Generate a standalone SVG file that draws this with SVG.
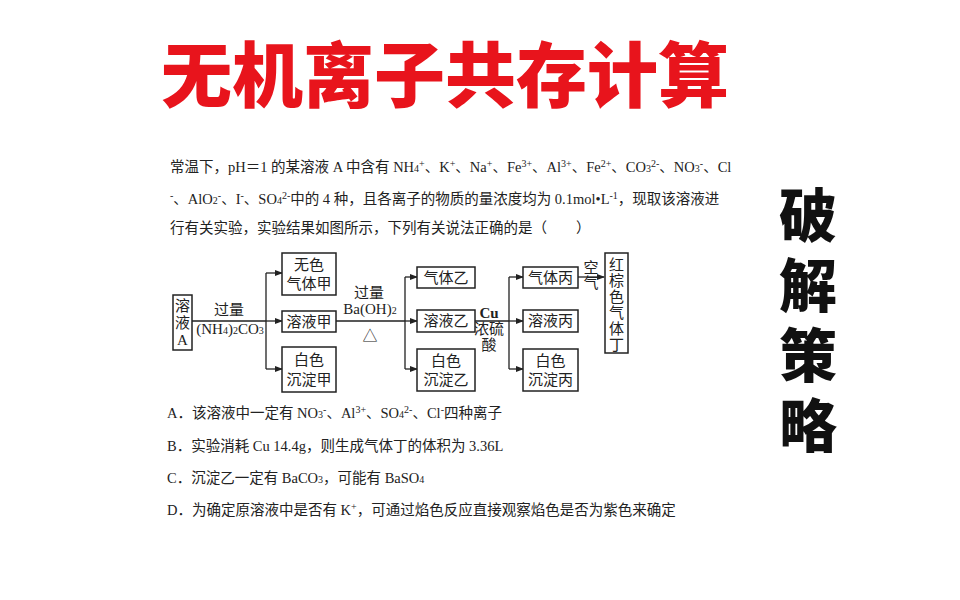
<svg xmlns="http://www.w3.org/2000/svg" width="960" height="600" viewBox="0 0 960 600">
<style>
.t{font-family:"Liberation Serif","Noto Sans CJK SC",serif;font-size:14.5px;fill:#222}
.d{font-family:"Liberation Serif","Noto Sans CJK SC",serif;font-size:15px;fill:#222}
.s{font-size:10px}
.b{fill:#fff;stroke:#222;stroke-width:1.5}
.l{fill:none;stroke:#222;stroke-width:1.3}
.a{fill:none;stroke:#222;stroke-width:1.3;marker-end:url(#ar)}
</style>
<defs><marker id="ar" markerWidth="8" markerHeight="6" refX="7" refY="3" orient="auto" markerUnits="userSpaceOnUse"><path d="M0,0L8,3L0,6z" fill="#222"/></marker></defs>
<rect width="960" height="600" fill="#fff"/>
<text x="445" y="101" text-anchor="middle" font-family="'Noto Sans CJK SC',sans-serif" font-weight="900" font-size="71" fill="#e8141c">无机离子共存计算</text>
<g font-family="'Noto Sans CJK SC',sans-serif" font-weight="900" font-size="58" fill="#111" text-anchor="middle">
<text x="808" y="237">破</text><text x="808" y="307">解</text><text x="808" y="377">策</text><text x="808" y="447">略</text></g>
<text class="t" x="170" y="172">常温下，pH＝1 的某溶液 A 中含有 NH<tspan class="s">4</tspan><tspan class="s" baseline-shift="super">+</tspan>、K<tspan class="s" baseline-shift="super">+</tspan>、Na<tspan class="s" baseline-shift="super">+</tspan>、Fe<tspan class="s" baseline-shift="super">3+</tspan>、Al<tspan class="s" baseline-shift="super">3+</tspan>、Fe<tspan class="s" baseline-shift="super">2+</tspan>、CO<tspan class="s">3</tspan><tspan class="s" baseline-shift="super">2-</tspan>、NO<tspan class="s">3</tspan><tspan class="s" baseline-shift="super">-</tspan>、Cl</text>
<text class="t" x="170" y="204"><tspan class="s" baseline-shift="super">-</tspan>、AlO<tspan class="s">2</tspan><tspan class="s" baseline-shift="super">-</tspan>、I<tspan class="s" baseline-shift="super">-</tspan>、SO<tspan class="s">4</tspan><tspan class="s" baseline-shift="super">2-</tspan>中的 4 种，且各离子的物质的量浓度均为 0.1mol•L<tspan class="s" baseline-shift="super">-1</tspan>，现取该溶液进</text>
<text class="t" x="170" y="233">行有关实验，实验结果如图所示，下列有关说法正确的是（　　）</text>
<g id="connectors">
<path class="l" d="M192,321H266M266,273V369"/>
<path class="a" d="M266,273H282"/><path class="a" d="M266,321H282"/><path class="a" d="M266,369H282"/>
<path class="l" d="M336,321H405M405,277V369"/>
<path class="a" d="M405,277H417"/><path class="a" d="M405,321H417"/><path class="a" d="M405,369H417"/>
<path class="l" d="M475,321H509M509,277V369"/>
<path class="a" d="M509,277H523"/><path class="a" d="M509,321H523"/><path class="a" d="M509,369H523"/>
<path class="a" d="M578,277H604"/>
<text class="d" x="229" y="315" text-anchor="middle" font-size="14">过量</text>
<text class="d" x="230" y="334" text-anchor="middle" font-size="13">(NH<tspan class="s">4</tspan>)<tspan class="s">2</tspan>CO<tspan class="s">3</tspan></text>
<text class="d" x="369" y="298" text-anchor="middle" font-size="14">过量</text>
<text class="d" x="370" y="314" text-anchor="middle" font-size="14">Ba(OH)<tspan class="s">2</tspan></text>
<text class="d" x="370" y="341" text-anchor="middle" font-size="15">△</text>
<text class="d" x="489" y="318" text-anchor="middle" font-size="13" font-weight="bold">Cu</text>
<text class="d" x="489" y="334" text-anchor="middle" font-size="14">浓硫</text>
<text class="d" x="489" y="350" text-anchor="middle" font-size="14">酸</text>
<text class="d" x="591" y="273" text-anchor="middle" font-size="13">空</text>
<text class="d" x="591" y="288" text-anchor="middle" font-size="13">气</text>
</g>
<g id="A"><rect class="b" x="173" y="295" width="19" height="55"/><text class="d" x="182.5" y="311" text-anchor="middle">溶</text><text class="d" x="182.5" y="328" text-anchor="middle">液</text><text class="d" x="182.5" y="345" text-anchor="middle">A</text></g>
<g id="jia1"><rect class="b" x="282" y="253" width="54" height="42"/><text class="d" x="309" y="270" text-anchor="middle">无色</text><text class="d" x="309" y="289" text-anchor="middle">气体甲</text></g>
<g id="jia2"><rect class="b" x="282" y="311" width="54" height="21"/><text class="d" x="309" y="327" text-anchor="middle">溶液甲</text></g>
<g id="jia3"><rect class="b" x="282" y="347" width="54" height="45"/><text class="d" x="309" y="365" text-anchor="middle">白色</text><text class="d" x="309" y="385" text-anchor="middle">沉淀甲</text></g>
<g id="yi1"><rect class="b" x="417" y="267" width="58" height="21"/><text class="d" x="446" y="283" text-anchor="middle">气体乙</text></g>
<g id="yi2"><rect class="b" x="417" y="310" width="58" height="22"/><text class="d" x="446" y="326" text-anchor="middle">溶液乙</text></g>
<g id="yi3"><rect class="b" x="417" y="349" width="58" height="42"/><text class="d" x="446" y="366" text-anchor="middle">白色</text><text class="d" x="446" y="385" text-anchor="middle">沉淀乙</text></g>
<g id="bing1"><rect class="b" x="523" y="267" width="55" height="21"/><text class="d" x="550.5" y="283" text-anchor="middle">气体丙</text></g>
<g id="bing2"><rect class="b" x="523" y="310" width="55" height="22"/><text class="d" x="550.5" y="326" text-anchor="middle">溶液丙</text></g>
<g id="bing3"><rect class="b" x="523" y="349" width="55" height="42"/><text class="d" x="550.5" y="366" text-anchor="middle">白色</text><text class="d" x="550.5" y="385" text-anchor="middle">沉淀丙</text></g>
<g id="ding"><rect class="b" x="605" y="253" width="23" height="100"/><text class="d" x="616.5" y="270" text-anchor="middle">红</text><text class="d" x="616.5" y="286" text-anchor="middle">棕</text><text class="d" x="616.5" y="302" text-anchor="middle">色</text><text class="d" x="616.5" y="318" text-anchor="middle">气</text><text class="d" x="616.5" y="334" text-anchor="middle">体</text><text class="d" x="616.5" y="350" text-anchor="middle">丁</text></g>
<text class="t" x="167" y="418">A．该溶液中一定有 NO<tspan class="s">3</tspan><tspan class="s" baseline-shift="super">-</tspan>、Al<tspan class="s" baseline-shift="super">3+</tspan>、SO<tspan class="s">4</tspan><tspan class="s" baseline-shift="super">2-</tspan>、Cl<tspan class="s" baseline-shift="super">-</tspan>四种离子</text>
<text class="t" x="167" y="451">B．实验消耗 Cu 14.4g，则生成气体丁的体积为 3.36L</text>
<text class="t" x="167" y="483">C．沉淀乙一定有 BaCO<tspan class="s">3</tspan>，可能有 BaSO<tspan class="s">4</tspan></text>
<text class="t" x="167" y="515">D．为确定原溶液中是否有 K<tspan class="s" baseline-shift="super">+</tspan>，可通过焰色反应直接观察焰色是否为紫色来确定</text>
</svg>
